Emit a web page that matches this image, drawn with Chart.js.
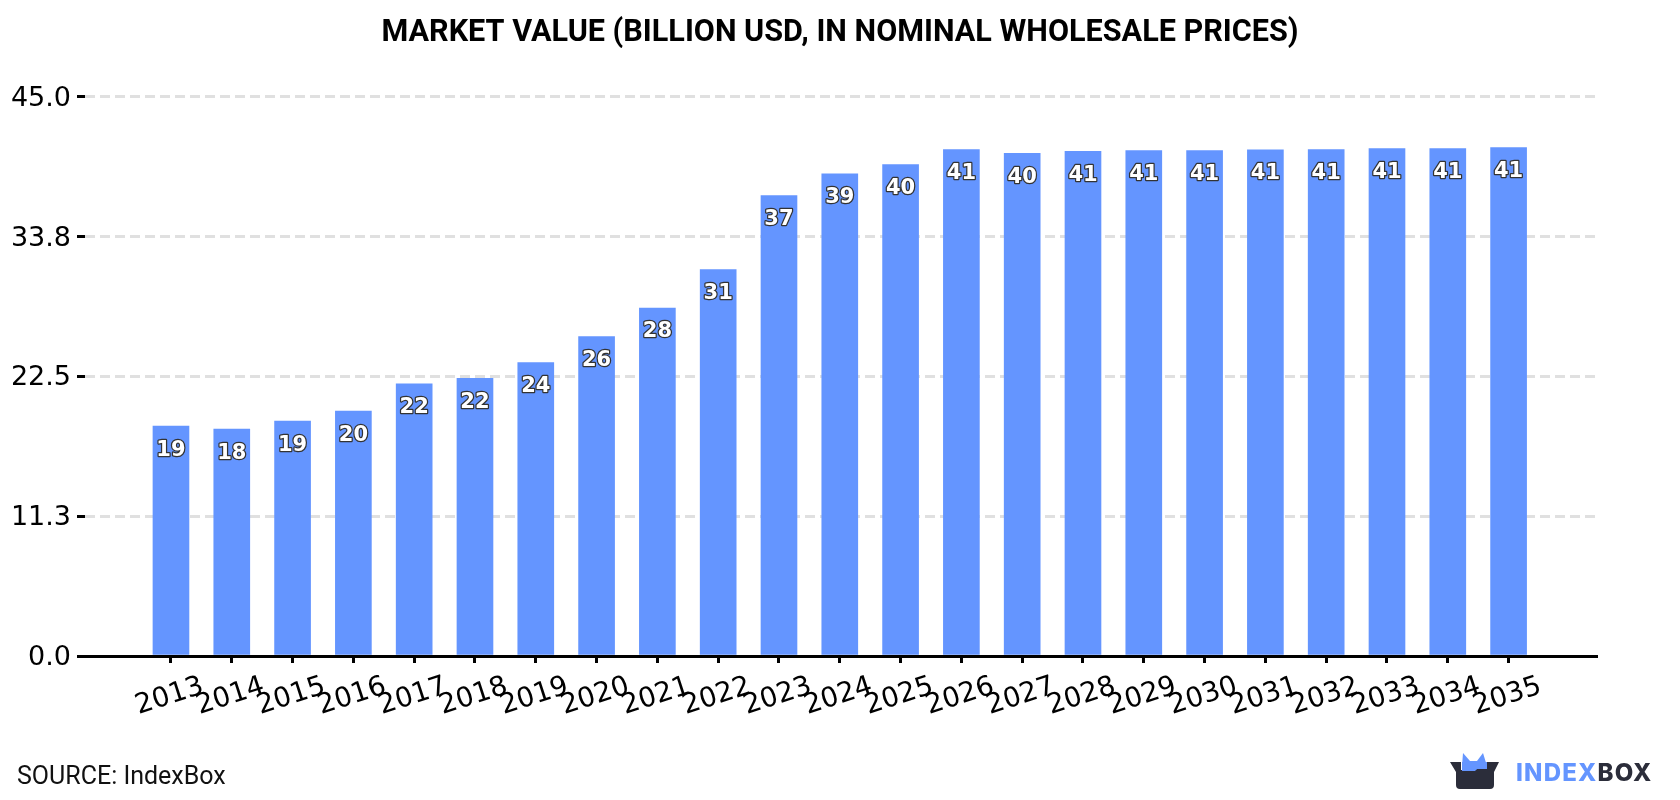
<!DOCTYPE html>
<html>
<head>
<meta charset="utf-8">
<title>Market value</title>
<script src="https://cdn.jsdelivr.net/npm/chart.js@4"></script>
<style>
  html, body { margin: 0; padding: 0; background: #fff; }
  #wrap { position: relative; width: 1680px; height: 800px; overflow: hidden; }
  canvas { position: absolute; left: 0; top: 0; }
  #source { position: absolute; left: 17px; top: 762px; font: 400 25px Roboto, sans-serif; color: #111; line-height: 28px; }
  #logo { position: absolute; left: 1450px; top: 752px; }
  #brand { position: absolute; left: 1516px; top: 759px; font: 800 24px Inter, Roboto, sans-serif; line-height: 28px; letter-spacing: 1.2px; color: #2b2d3a; white-space: nowrap; }
  #brand span { color: #6495ff; }
</style>
</head>
<body>
<div id="wrap">
  <canvas id="chart" width="1680" height="800"></canvas>
  <div id="source">SOURCE: IndexBox</div>
  <svg id="logo" width="50" height="38" viewBox="0 0 50 38">
    <path d="M12 14 L13 1 L20 9 L27 9 L33 1 L37 14 L37 19 L27 19 L25 22 L12 22 Z" fill="#6495ff"/>
    <path d="M0 10 L11 10 L11 18 L26 18 L30 10 L49 10 L44 20 L44 33 Q44 37 40 37 L10 37 Q6 37 6 33 L6 20 Z" fill="#2b2d3a"/>
    <path d="M12 10 L37 10 L37 17 L27 17 L25 19 L12 19 Z" fill="#6495ff"/>
  </svg>
  <div id="brand"><span>INDEX</span>BOX</div>
</div>
<script>
// Market value by year, billion USD
const years = [2013, 2014, 2015, 2016, 2017, 2018, 2019, 2020, 2021, 2022, 2023, 2024,
               2025, 2026, 2027, 2028, 2029, 2030, 2031, 2032, 2033, 2034, 2035];
const marketValue = [18.5, 18.25, 18.9, 19.7, 21.9, 22.35, 23.6, 25.7, 28.0, 31.1, 37.05, 38.8,
                     39.55, 40.75, 40.45, 40.6, 40.67, 40.67, 40.72, 40.75, 40.83, 40.83, 40.9];
const valueTicks = [0, 11.25, 22.5, 33.75, 45];
const chartTitle = 'MARKET VALUE (BILLION USD, IN NOMINAL WHOLESALE PRICES)';

// Rounded value written inside the top of each bar, white with a dark outline
const barLabels = {
  id: 'barLabels',
  afterDatasetsDraw(chart) {
    const { ctx } = chart;
    ctx.save();
    ctx.font = 'bold 21px "DejaVu Sans"';
    ctx.textAlign = 'center';
    ctx.textBaseline = 'middle';
    ctx.lineJoin = 'round';
    chart.getDatasetMeta(0).data.forEach((bar, i) => {
      const text = String(Math.round(marketValue[i]));
      ctx.lineWidth = 2.5;
      ctx.strokeStyle = '#333';
      ctx.strokeText(text, bar.x, bar.y + 24);
      ctx.fillStyle = '#fff';
      ctx.fillText(text, bar.x, bar.y + 24);
    });
    ctx.restore();
  }
};

new Chart(document.getElementById('chart'), {
  type: 'bar',
  data: {
    datasets: [{
      data: years.map((year, i) => ({ x: year, y: marketValue[i] })),
      backgroundColor: '#6495ff',
      borderWidth: 0,
      barThickness: 36
    }]
  },
  plugins: [barLabels],
  options: {
    responsive: false,
    animation: false,
    layout: { padding: 0 },
    plugins: {
      legend: { display: false },
      tooltip: { enabled: false },
      title: {
        display: true,
        text: chartTitle,
        color: '#000',
        font: { family: 'Roboto', weight: 'bold', size: 30.6 },
        padding: { top: 15, bottom: 45 }
      }
    },
    scales: {
      x: {
        type: 'linear',
        offset: false,
        min: 2011.586,
        max: 2036.454,
        afterBuildTicks(scale) { scale.ticks = years.map(value => ({ value })); },
        afterFit(scale) { scale.height = 144; },
        border: { display: true, color: '#000', width: 3 },
        grid: { offset: false, drawOnChartArea: false, drawTicks: true, tickLength: 7, tickColor: '#000', tickWidth: 3 },
        ticks: {
          autoSkip: false,
          minRotation: 18,
          maxRotation: 18,
          labelOffset: 32,
          padding: 7,
          color: '#000',
          font: { family: 'DejaVu Sans', size: 27.5 },
          callback: value => String(value)
        }
      },
      y: {
        min: 0,
        max: 45,
        afterBuildTicks(scale) { scale.ticks = valueTicks.map(value => ({ value })); },
        afterFit(scale) { scale.width = 85; },
        border: { display: false, dash: [10, 5] },
        grid: { color: '#e0e0e0', lineWidth: 3, tickLength: 8, tickColor: '#000', tickWidth: 3, tickBorderDash: [] },
        ticks: {
          padding: 6,
          labelOffset: 2,
          color: '#000',
          font: { family: 'DejaVu Sans', size: 27 },
          callback: value => value.toFixed(1)
        }
      },
      // empty right-hand axis that reserves the margin beside the plot
      margin: {
        position: 'right',
        afterFit(scale) { scale.width = 83; },
        border: { display: false },
        grid: { display: false },
        ticks: { display: false }
      }
    }
  }
});
</script>
</body>
</html>
